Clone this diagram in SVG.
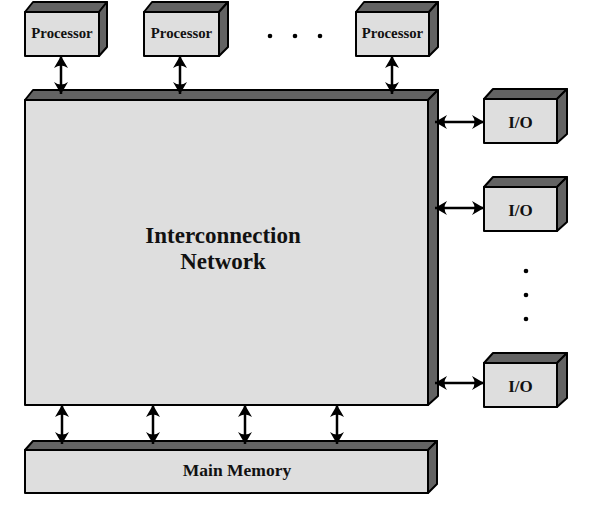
<svg xmlns="http://www.w3.org/2000/svg" width="606" height="506" viewBox="0 0 606 506">
<defs>
<style>
.front{fill:#dedede;stroke:#000;stroke-width:2;stroke-linejoin:round}
.side{fill:#636363;stroke:#000;stroke-width:2;stroke-linejoin:round}
.lbl{font-family:"Liberation Serif",serif;font-weight:bold;fill:#111;text-anchor:middle}
.conn{stroke:#000;stroke-width:2.5;fill:none;marker-start:url(#ah);marker-end:url(#ah)}
.dot{fill:#000}
</style>
<marker id="ah" viewBox="-13 -8 14 16" refX="0" refY="0" markerWidth="14" markerHeight="16" markerUnits="userSpaceOnUse" orient="auto-start-reverse">
<path d="M0,0 L-12,-7 Q-7,0 -12,7 Z" fill="#000"/>
</marker>
</defs>
<g id="proc1">
<polygon class="side" points="25,12 33,2 107,2 99,12"/>
<polygon class="side" points="99,12 107,2 107,47 99,56"/>
<rect class="front" x="25" y="12" width="74" height="44"/>
<text class="lbl" x="62" y="38" font-size="14.8">Processor</text>
</g>
<g id="proc2">
<polygon class="side" points="144,12 152,2 228,2 219,12"/>
<polygon class="side" points="219,12 228,2 228,47 219,56"/>
<rect class="front" x="144" y="12" width="75" height="44"/>
<text class="lbl" x="181.5" y="38" font-size="14.8">Processor</text>
</g>
<g id="proc3">
<polygon class="side" points="356,12 364,2 438,2 429,12"/>
<polygon class="side" points="429,12 438,2 438,47 429,56"/>
<rect class="front" x="356" y="12" width="73" height="44"/>
<text class="lbl" x="392.5" y="38" font-size="14.8">Processor</text>
</g>
<g id="topdots">
<circle class="dot" cx="270" cy="36" r="2.3"/>
<circle class="dot" cx="295" cy="36" r="2.3"/>
<circle class="dot" cx="320" cy="36" r="2.3"/>
</g>
<g id="network">
<polygon class="side" points="25,100 33,90 438,90 428,100"/>
<polygon class="side" points="428,100 438,90 438,396 428,405"/>
<rect class="front" x="25" y="100" width="403" height="305"/>
<text class="lbl" x="223" y="243" font-size="23">Interconnection</text>
<text class="lbl" x="223" y="269" font-size="23">Network</text>
</g>
<g id="io1">
<polygon class="side" points="484,99 493,89 567,89 557,99"/>
<polygon class="side" points="557,99 567,89 567,134 557,143"/>
<rect class="front" x="484" y="99" width="73" height="44"/>
<text class="lbl" x="520.5" y="128" font-size="17">I/O</text>
</g>
<g id="io2">
<polygon class="side" points="484,187 493,177 567,177 557,187"/>
<polygon class="side" points="557,187 567,177 567,222 557,231"/>
<rect class="front" x="484" y="187" width="73" height="44"/>
<text class="lbl" x="520.5" y="216" font-size="17">I/O</text>
</g>
<g id="io3">
<polygon class="side" points="484,363 493,353 567,353 557,363"/>
<polygon class="side" points="557,363 567,353 567,398 557,407"/>
<rect class="front" x="484" y="363" width="73" height="44"/>
<text class="lbl" x="520.5" y="392" font-size="17">I/O</text>
</g>
<g id="iodots">
<circle class="dot" cx="526" cy="271" r="2.3"/>
<circle class="dot" cx="526" cy="295" r="2.3"/>
<circle class="dot" cx="526" cy="319" r="2.3"/>
</g>
<g id="memory">
<polygon class="side" points="25,450 33,441 437,441 428,450"/>
<polygon class="side" points="428,450 437,441 437,484 428,493"/>
<rect class="front" x="25" y="450" width="403" height="43"/>
<text class="lbl" x="237" y="476" font-size="17.5">Main Memory</text>
</g>
<g id="connectors">
<line class="conn" x1="61" y1="56" x2="61" y2="94"/>
<line class="conn" x1="180" y1="56" x2="180" y2="94"/>
<line class="conn" x1="392" y1="56" x2="392" y2="94"/>
<line class="conn" x1="435" y1="122" x2="484" y2="122"/>
<line class="conn" x1="435" y1="208" x2="484" y2="208"/>
<line class="conn" x1="435" y1="383" x2="484" y2="383"/>
<line class="conn" x1="62" y1="405" x2="62" y2="444"/>
<line class="conn" x1="153" y1="405" x2="153" y2="444"/>
<line class="conn" x1="245" y1="405" x2="245" y2="444"/>
<line class="conn" x1="337" y1="405" x2="337" y2="444"/>
</g>
</svg>
